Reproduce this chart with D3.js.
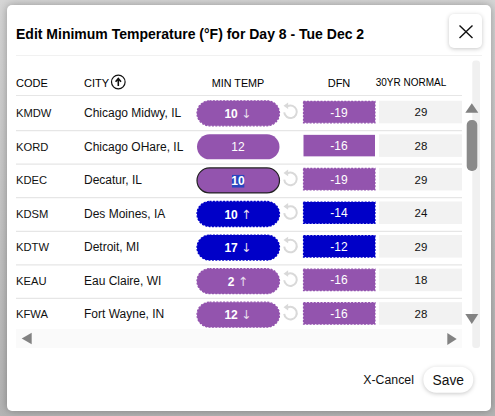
<!DOCTYPE html>
<html>
<head>
<meta charset="utf-8">
<script src="https://cdn.jsdelivr.net/npm/d3@7"></script>
<style>
html, body { margin: 0; padding: 0; background: #c4c4c4; overflow: hidden; }
text { font-family: "Liberation Sans", Arial, sans-serif; }
</style>
</head>
<body>
<svg id="chart"></svg>
<script>
// values
const codes = ["KMDW", "KORD", "KDEC", "KDSM", "KDTW", "KEAU", "KFWA"];
const cities = ["Chicago Midwy, IL", "Chicago OHare, IL", "Decatur, IL", "Des Moines, IA", "Detroit, MI", "Eau Claire, WI", "Fort Wayne, IN"];
const minTemps = [10, 12, 10, 10, 17, 2, 12];
const dfn = [-19, -16, -19, -14, -12, -16, -16];
const normals = [29, 28, 29, 24, 29, 18, 28];
const arrows = ["↓", "", "", "↑", "↓", "↑", "↓"];
const edited = [true, false, true, true, true, true, true]; // dashed border + undo icon
const focused = 2; // row with the text box active

const width = 495, height = 416;
const purple = "#9354ae", blue = "#0000c8";

// anomaly colour bins
const color = d3.scaleThreshold().domain([-15]).range([purple, blue]);

// rows
const y = d3.scaleBand().domain(d3.range(codes.length)).range([95, 330]);
const mid = i => y(i) + y.bandwidth() / 2;

const svg = d3.select("#chart").attr("width", width).attr("height", height)
    .style("display", "block");

const defs = svg.append("defs");
const grad = defs.append("linearGradient").attr("id", "back").attr("x1", 0).attr("x2", 0).attr("y1", 0).attr("y2", 1);
grad.append("stop").attr("offset", 0).attr("stop-color", "#d6d6d6");
grad.append("stop").attr("offset", 1).attr("stop-color", "#b4b4b4");
svg.append("rect").attr("width", width).attr("height", height).attr("fill", "url(#back)");

// dialog
svg.append("rect").attr("x", 7).attr("y", 5).attr("width", 484).attr("height", 406).attr("rx", 5)
    .attr("fill", "#fff").style("filter", "drop-shadow(0 0 4px rgba(0,0,0,.3))");

svg.append("text").attr("x", 16).attr("y", 39).attr("font-size", 14).attr("font-weight", 700)
    .attr("fill", "#000").text("Edit Minimum Temperature (°F) for Day 8 - Tue Dec 2");
svg.append("line").attr("x1", 16).attr("x2", 482).attr("y1", 55.5).attr("y2", 55.5).attr("stroke", "#f1f1f1");

// close button
const close = svg.append("g");
close.append("rect").attr("x", 449).attr("y", 14).attr("width", 33).attr("height", 34).attr("rx", 5)
    .attr("fill", "#fff").style("filter", "drop-shadow(0 1px 2px rgba(0,0,0,.22))");
close.append("path").attr("d", "M459.5,25.5L472.5,38M472.5,25.5L459.5,38").attr("stroke", "#111").attr("stroke-width", 1.4);

// column heads
const head = svg.append("g").attr("fill", "#000").attr("font-size", 11);
head.append("text").attr("x", 16).attr("y", 87).text("CODE");
head.append("text").attr("x", 84).attr("y", 87).text("CITY");
head.append("text").attr("x", 238).attr("y", 87).attr("text-anchor", "middle").attr("font-size", 10.8).text("MIN TEMP");
head.append("text").attr("x", 339).attr("y", 87).attr("text-anchor", "middle").text("DFN");
head.append("text").attr("x", 411).attr("y", 86).attr("text-anchor", "middle").attr("font-size", 10).text("30YR NORMAL");
svg.append("circle").attr("cx", 118.3).attr("cy", 82).attr("r", 6.8).attr("fill", "none").attr("stroke", "#111").attr("stroke-width", 1.2);
svg.append("path").attr("d", "M118.3,86V79.5M115.6,81.8L118.3,78.6L121,81.8").attr("fill", "none").attr("stroke", "#111").attr("stroke-width", 1.6);

// row rules
svg.append("line").attr("x1", 16).attr("x2", 462).attr("y1", 95.5).attr("y2", 95.5).attr("stroke", "#e6e6e6").attr("stroke-width", 1.2);
svg.append("g").selectAll("line").data(d3.range(1, codes.length)).join("line")
    .attr("x1", 16).attr("x2", 462).attr("y1", d => y(d) + 2).attr("y2", d => y(d) + 2)
    .attr("stroke", "#e6e6e6").attr("stroke-width", 1.2);

const rows = svg.append("g").selectAll("g").data(codes).join("g")
    .attr("transform", (d, i) => `translate(0,${mid(i)})`);

rows.append("text").attr("x", 16).attr("y", 5.2).attr("font-size", 11.2)
    .attr("fill", "#111").text(d => d);
rows.append("text").attr("x", 84).attr("y", 5.2).attr("font-size", 12)
    .attr("fill", "#111").text((d, i) => cities[i]);

// temperature pill
rows.append("rect").attr("x", 197).attr("y", -11).attr("width", 82.5).attr("height", 25).attr("rx", 12.5)
    .attr("fill", (d, i) => color(dfn[i]))
    .attr("stroke", (d, i) => i === focused ? "#222" : edited[i] ? color(dfn[i]) : "none")
    .attr("stroke-width", (d, i) => i === focused ? 1.2 : 1.3)
    .attr("stroke-dasharray", (d, i) => edited[i] && i !== focused ? "2 1.4" : null);

// selected text highlight in the focused cell
rows.filter((d, i) => i === focused).append("rect")
    .attr("x", 232).attr("y", -4).attr("width", 12.3).attr("height", 12.6).attr("fill", "#2a46c0");

const tempLabel = rows.append("text").attr("x", 238).attr("y", 6).attr("text-anchor", "middle")
    .attr("font-size", 12).attr("fill", "#fff")
    .attr("font-weight", (d, i) => edited[i] ? 700 : 400);
tempLabel.append("tspan").text((d, i) => arrows[i] ? `${minTemps[i]} ` : minTemps[i]);
tempLabel.append("tspan").style("font-family", "'DejaVu Sans'").attr("font-weight", 400)
    .attr("font-size", 12.5).attr("fill", "#e6dcec").text((d, i) => arrows[i]);

// undo icon
const undo = rows.filter((d, i) => edited[i]).append("g").attr("transform", "translate(290.5,0)");
undo.append("path").attr("d", "M-3,-5.6A6.3,6.3 0 1 1 -6.3,0.6").attr("fill", "none").attr("stroke", "#d9d9d9").attr("stroke-width", 2);
undo.append("path").attr("d", "M-2.4,-9.4L-2.4,-2.8L-7,-6Z").attr("fill", "#d9d9d9");

// dfn box
rows.append("rect").attr("x", 303.5).attr("y", -10.5).attr("width", 71.5).attr("height", 21.5)
    .attr("fill", (d, i) => color(dfn[i]))
    .attr("stroke", (d, i) => edited[i] ? color(dfn[i]) : "none")
    .attr("stroke-width", 1.2)
    .attr("stroke-dasharray", "2 1.4");
rows.append("text").attr("x", 339).attr("y", 4.8).attr("text-anchor", "middle")
    .attr("font-size", 12).attr("fill", "#fff").text((d, i) => dfn[i]);

// normal box
rows.append("rect").attr("x", 379).attr("y", -11).attr("width", 83).attr("height", 22.5).attr("fill", "#f2f2f2");
rows.append("text").attr("x", 421).attr("y", 4.6).attr("text-anchor", "middle")
    .attr("font-size", 11.5).attr("fill", "#111").text((d, i) => normals[i]);

// horizontal scrollbar
svg.append("rect").attr("x", 16).attr("y", 329).attr("width", 446).attr("height", 19).attr("fill", "#fafafa");
svg.append("path").attr("d", "M21.7,338.5L31.7,332.7V344.3Z").attr("fill", "#828282");
svg.append("path").attr("d", "M456.7,339L447.3,333V345Z").attr("fill", "#828282");

// vertical scrollbar
svg.append("rect").attr("x", 472.3).attr("y", 60.5).attr("width", 7.7).attr("height", 287.5).attr("rx", 3).attr("fill", "#f0f0f0");
svg.append("rect").attr("x", 466.7).attr("y", 120).attr("width", 10.6).attr("height", 51).attr("rx", 5).attr("fill", "#8a8a8a");
svg.append("path").attr("d", "M471.8,103.3L478.3,112.7H465.3Z").attr("fill", "#828282");
svg.append("path").attr("d", "M471.8,324L478.3,314H465.3Z").attr("fill", "#828282");

// footer buttons
svg.append("text").attr("x", 363.3).attr("y", 384).attr("font-size", 12.3).attr("fill", "#111").text("X-Cancel");
svg.append("rect").attr("x", 423.3).attr("y", 366.7).attr("width", 50).attr("height", 26).attr("rx", 13)
    .attr("fill", "#fff").style("filter", "drop-shadow(0 1px 2px rgba(0,0,0,.22))");
svg.append("text").attr("x", 448.3).attr("y", 384.5).attr("text-anchor", "middle").attr("font-size", 13.8).attr("fill", "#111").text("Save");
</script>
</body>
</html>
